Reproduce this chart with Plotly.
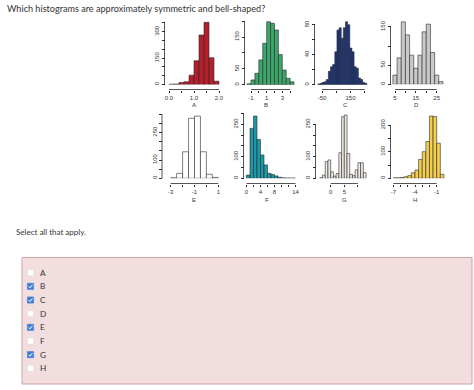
import plotly.graph_objects as go

W, H = 474, 390

# ---------------- text content ----------------
question = "Which histograms are approximately symmetric and bell-shaped?"
prompt = "Select all that apply."
options = ["A", "B", "C", "D", "E", "F", "G", "H"]
checked = ["B", "C", "E", "G"]

# ---------------- histogram data (first edge, bin width, counts) ----------------
A_start, A_width = 0.0, 0.2
A_counts = [2, 3, 12, 15, 53, 135, 281, 353, 152, 19]
A_xticks = [0, 0.5, 1, 1.5, 2]
A_xlabels = ["0.0", "", "1.0", "", "2.0"]
A_yticks = [0, 50, 100, 150, 200, 250, 300, 350]
A_ylabels = ["0", "", "", "150", "", "", "300", ""]

B_start, B_width = -1.5, 0.5
B_counts = [3, 15, 36, 78, 130, 198, 193, 172, 95, 46, 20, 9]
B_xticks = [-1, 0, 1, 2, 3, 4]
B_xlabels = ["-1", "", "1", "", "3", ""]
B_yticks = [0, 50, 100, 150, 200]
B_ylabels = ["0", "50", "", "150", ""]

C_start, C_width = -80, 15
C_counts = [1, 2, 3, 4, 7, 18, 24, 27, 44, 73, 76, 62, 76, 84, 80, 49, 44, 24, 22, 9, 7, 3, 2]
C_xticks = [-50, 50, 150, 250]
C_xlabels = ["-50", "", "150", ""]
C_yticks = [0, 20, 40, 60, 80]
C_ylabels = ["0", "", "40", "", "80"]

D_start, D_width = 4, 2
D_counts = [24, 69, 163, 129, 76, 42, 76, 137, 157, 83, 24, 7]
D_xticks = [5, 10, 15, 20, 25]
D_xlabels = ["5", "", "15", "", "25"]
D_yticks = [0, 50, 100, 150]
D_ylabels = ["0", "50", "", "150"]

E_start, E_width = -3, 0.5
E_counts = [3, 27, 145, 328, 340, 145, 22, 5]
E_xticks = [-3, -2, -1, 0, 1]
E_xlabels = ["-3", "", "-1", "", "1"]
E_yticks = [0, 50, 100, 150, 200, 250, 300, 350]
E_ylabels = ["0", "", "100", "", "", "250", "", ""]

F_start, F_width = 0, 1
F_counts = [15, 231, 288, 180, 108, 62, 23, 18, 11, 5, 2, 1, 1, 1]
F_xticks = [0, 2, 4, 6, 8, 10, 12, 14]
F_xlabels = ["0", "", "4", "", "8", "", "", "14"]
F_yticks = [0, 50, 100, 150, 200, 250, 300]
F_ylabels = ["0", "", "100", "", "", "250", ""]

G_start, G_width = -4, 1
G_counts = [3, 15, 77, 85, 30, 10, 22, 118, 285, 293, 115, 18, 12, 39, 72, 72, 26]
G_xticks = [0, 5, 10]
G_xlabels = ["0", "5", ""]
G_yticks = [0, 50, 100, 150, 200, 250]
G_ylabels = ["0", "", "100", "", "", "250"]

H_start, H_width = -7, 0.5
H_counts = [2, 2, 3, 6, 10, 21, 31, 71, 100, 138, 234, 232, 132, 15]
H_xticks = [-7, -6, -5, -4, -3, -2, -1]
H_xlabels = ["-7", "", "", "-4", "", "", "-1"]
H_yticks = [0, 50, 100, 150, 200]
H_ylabels = ["0", "", "100", "", "200"]

# ---------------- styling / placement (pixels) ----------------
panels = [
    dict(name="A", start=A_start, width=A_width, counts=A_counts, xt=A_xticks, xl=A_xlabels, yt=A_yticks, yl=A_ylabels,
         color="#b51f2c", map=((169, 0), (219, 2)), base=84.5, scale=0.176, yax=164.5, xax=89.5, title=(194, 105.5)),
    dict(name="B", start=B_start, width=B_width, counts=B_counts, xt=B_xticks, xl=B_xlabels, yt=B_yticks, yl=B_ylabels,
         color="#3da66a", map=((251, -1), (282.3, 3)), base=84.7, scale=0.318, yax=244.5, xax=89.5, title=(266, 105.5)),
    dict(name="C", start=C_start, width=C_width, counts=C_counts, xt=C_xticks, xl=C_xlabels, yt=C_yticks, yl=C_ylabels,
         color="#1b3580", map=((322, -50), (350.5, 150)), base=84.8, scale=0.75, yax=314.5, xax=89.5, title=(345, 105.5)),
    dict(name="D", start=D_start, width=D_width, counts=D_counts, xt=D_xticks, xl=D_xlabels, yt=D_yticks, yl=D_ylabels,
         color="#c9c9c9", map=((395, 5), (436.7, 25)), base=84.3, scale=0.383, yax=390.5, xax=89.5, title=(416, 105.5)),
    dict(name="E", start=E_start, width=E_width, counts=E_counts, xt=E_xticks, xl=E_xlabels, yt=E_yticks, yl=E_ylabels,
         color="#ffffff", map=((170.7, -3), (218.3, 1)), base=178.3, scale=0.183, yax=162, xax=183.5, title=(194, 200)),
    dict(name="F", start=F_start, width=F_width, counts=F_counts, xt=F_xticks, xl=F_xlabels, yt=F_yticks, yl=F_ylabels,
         color="#1c98a7", map=((246.5, 0), (295.5, 14)), base=178.3, scale=0.216, yax=243.5, xax=183.5, title=(267, 200)),
    dict(name="G", start=G_start, width=G_width, counts=G_counts, xt=G_xticks, xl=G_xlabels, yt=G_yticks, yl=G_ylabels,
         color="#eeeae2", map=((330.7, 0), (344.3, 5)), base=178.3, scale=0.216, yax=315.5, xax=183.5, title=(344, 200)),
    dict(name="H", start=H_start, width=H_width, counts=H_counts, xt=H_xticks, xl=H_xlabels, yt=H_yticks, yl=H_ylabels,
         color="#f4cf4e", map=((393.3, -7), (436.7, -1)), base=178.3, scale=0.266, yax=390.5, xax=183.5, title=(415, 200)),
]

INK = "#2a2a2a"
TICKFONT = dict(family="Liberation Sans, Arial, sans-serif", size=6, color="#333333")


def fx(px):
    return px / W


def fy(py):
    return 1 - py / H


fig = go.Figure()
shapes = []
annotations = []
layout_axes = {}

for i, p in enumerate(panels, start=1):
    (px0, d0), (px1, d1) = p["map"]
    b = (px1 - px0) / (d1 - d0)
    n = len(p["counts"])
    left_px = p["yax"] - 2
    right_px = px0 + b * (p["start"] + p["width"] * n - d0) + 4
    to_data = lambda px: d0 + (px - px0) / b
    top_px = p["base"] - 72
    xa = "x" if i == 1 else f"x{i}"
    ya = "y" if i == 1 else f"y{i}"
    centers = [p["start"] + p["width"] * (k + 0.5) for k in range(n)]
    fig.add_trace(go.Bar(
        x=centers, y=p["counts"], width=[p["width"]] * n,
        marker=dict(color=p["color"], line=dict(color=INK, width=0.6)),
        xaxis=xa, yaxis=ya, showlegend=False, hoverinfo="skip"))
    xname = "xaxis" if i == 1 else f"xaxis{i}"
    yname = "yaxis" if i == 1 else f"yaxis{i}"
    layout_axes[xname] = dict(
        domain=[fx(left_px), fx(right_px)], range=[to_data(left_px), to_data(right_px)],
        anchor="free", position=fy(p["xax"]), showline=False, showgrid=False, zeroline=False,
        tickmode="array", tickvals=p["xt"], ticktext=p["xl"], ticks="outside", ticklen=2.5,
        tickwidth=0.8, tickcolor=INK, tickfont=TICKFONT, automargin=False, fixedrange=True)
    layout_axes[yname] = dict(
        domain=[fy(p["base"]), fy(top_px)], range=[0, (p["base"] - top_px) / p["scale"]],
        anchor="free", position=fx(p["yax"]), showline=False, showgrid=False, zeroline=False,
        tickmode="array", tickvals=p["yt"], ticktext=p["yl"], ticks="outside", ticklen=3,
        tickwidth=0.8, tickcolor=INK, tickfont=TICKFONT, tickangle=-90, automargin=False,
        fixedrange=True)
    # R-style axis lines spanning only the tick range
    shapes.append(dict(type="line", xref="paper", yref=ya, x0=fx(p["yax"]), x1=fx(p["yax"]),
                       y0=p["yt"][0], y1=p["yt"][-1], line=dict(color=INK, width=0.8)))
    shapes.append(dict(type="line", xref=xa, yref="paper", x0=p["xt"][0], x1=p["xt"][-1],
                       y0=fy(p["xax"]), y1=fy(p["xax"]), line=dict(color=INK, width=0.8)))
    annotations.append(dict(text=p["name"], x=fx(p["title"][0]), y=fy(p["title"][1]),
                            xref="paper", yref="paper", showarrow=False, xanchor="center",
                            yanchor="middle", font=dict(family="Liberation Sans, Arial", size=6, color="#333")))

# question & prompt text
annotations.append(dict(text=question, x=fx(5), y=fy(8), xref="paper", yref="paper", showarrow=False,
                        xanchor="left", yanchor="middle", font=dict(family="Lato", size=9.1, color="#333333")))
annotations.append(dict(text=prompt, x=fx(14), y=fy(232), xref="paper", yref="paper", showarrow=False,
                        xanchor="left", yanchor="middle", font=dict(family="Lato", size=8, color="#333333")))

# answer panel
shapes.append(dict(type="rect", xref="paper", yref="paper", x0=fx(22), x1=fx(472), y0=fy(384), y1=fy(257.5),
                   fillcolor="#f2dede", line=dict(color="#d3a2a2", width=1), layer="below"))
row0, step, s = 272.7, 13.66, 6.2
for k, opt in enumerate(options):
    cy = row0 + k * step
    cx = 30.5
    on = opt in checked
    shapes.append(dict(type="rect", xref="paper", yref="paper",
                       x0=fx(cx - s / 2), x1=fx(cx + s / 2), y0=fy(cy + s / 2), y1=fy(cy - s / 2),
                       fillcolor="#3c7fd6" if on else "#ffffff",
                       line=dict(color="#3c7fd6" if on else "#e2dada", width=0.6)))
    if on:
        path = (f"M {fx(cx - 1.9)},{fy(cy + 0.1)} L {fx(cx - 0.5)},{fy(cy + 1.5)} "
                f"L {fx(cx + 2.0)},{fy(cy - 1.6)}")
        shapes.append(dict(type="path", xref="paper", yref="paper", path=path,
                           line=dict(color="#ffffff", width=1)))
    annotations.append(dict(text=opt, x=fx(37.5), y=fy(cy), xref="paper", yref="paper", showarrow=False,
                            xanchor="left", yanchor="middle", font=dict(family="Lato", size=8.2, color="#333333")))

fig.update_layout(
    width=W, height=H, margin=dict(l=0, r=0, t=0, b=0),
    paper_bgcolor="#ffffff", plot_bgcolor="rgba(0,0,0,0)",
    shapes=shapes, annotations=annotations, showlegend=False,
    **layout_axes)

fig.write_html("out.html", config={"displayModeBar": False},
               post_script="document.body.style.margin='0';document.body.style.overflow='hidden';")
